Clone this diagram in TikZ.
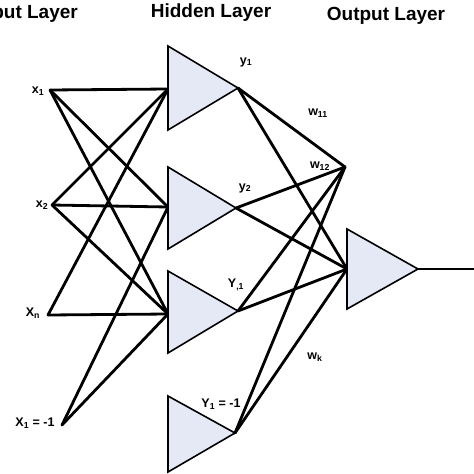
\documentclass[tikz,border=0pt]{standalone}
\usepackage{fontspec}
\setmainfont{Liberation Sans}
\definecolor{trifill}{RGB}{228,233,245}
\begin{document}
\begin{tikzpicture}[x=1pt,y=-1pt,
  tri/.style={draw=black,line width=1.6pt,fill=trifill,line join=miter},
  link/.style={line width=2.8pt,line cap=round},
  lbl/.style={font=\bfseries\fontsize{12.5}{14}\selectfont,inner sep=0pt},
  ttl/.style={font=\bfseries\fontsize{19}{22}\selectfont,inner sep=0pt}]
\useasboundingbox (0,0) rectangle (474,474);
% titles
\node[ttl,anchor=east] (tin) at (78,14) {Input Layer};
\node[ttl] (thid) at (211,13) {Hidden Layer};
\node[ttl] (tout) at (386,16) {Output Layer};
% input points
\coordinate (x1) at (50,90);
\coordinate (x2) at (52,205);
\coordinate (xn) at (48,315);
\coordinate (x0) at (62,425);
% hidden inputs and tips
\coordinate (h1in) at (168,89);
\coordinate (h2in) at (168,207);
\coordinate (h3in) at (168,314);
\coordinate (h1) at (238,88);
\coordinate (h2) at (236,208);
\coordinate (h3) at (238,311);
\coordinate (h4) at (235,433);
% output
\coordinate (oin) at (347,269);
\coordinate (apex) at (345,167);
\coordinate (otip) at (418,269);
\coordinate (oend) at (474,269);
% input -> hidden links
\draw[link] (x1) -- (h1in);
\draw[link] (x1) -- (h2in);
\draw[link] (x1) -- (h3in);
\draw[link] (x2) -- (h1in);
\draw[link] (x2) -- (h2in);
\draw[link] (x2) -- (h3in);
\draw[link] (xn) -- (h1in);
\draw[link] (xn) -- (h3in);
\draw[link] (x0) -- (h2in);
\draw[link] (x0) -- (h3in);
% hidden -> output links
\foreach \h in {h1,h2,h3,h4}{
  \draw[link] (\h) -- (apex);
  \draw[link] (\h) -- (oin);
}
\draw[line width=2.2pt] (otip) -- (oend);
% triangles
\draw[tri] (168,46) -- (h1) -- (168,130) -- cycle;
\draw[tri] (168,167) -- (h2) -- (168,249) -- cycle;
\draw[tri] (168,271) -- (h3) -- (168,353) -- cycle;
\draw[tri] (168,396) -- (h4) -- (168,472) -- cycle;
\draw[tri] (347,229) -- (otip) -- (347,309) -- cycle;
% labels
\node[lbl] (lx1) at (38,91) {x\textsubscript{1}};
\node[lbl] (lx2) at (42,205) {x\textsubscript{2}};
\node[lbl] (lxn) at (33,313) {X\textsubscript{n}};
\node[lbl] (lx0) at (35,423) {X\textsubscript{1} = -1};
\node[lbl] (ly1) at (246,62) {y\textsubscript{1}};
\node[lbl] (ly2) at (245,188) {y\textsubscript{2}};
\node[lbl] (lyn) at (236,285) {Y\textsubscript{,1}};
\node[lbl] (ly0) at (221,404) {Y\textsubscript{1} = -1};
\node[lbl] (lw11) at (318,113) {w\textsubscript{11}};
\node[lbl] (lw12) at (320,166) {w\textsubscript{12}};
\node[lbl] (lwk) at (315,357) {w\textsubscript{k}};
\end{tikzpicture}
\end{document}
